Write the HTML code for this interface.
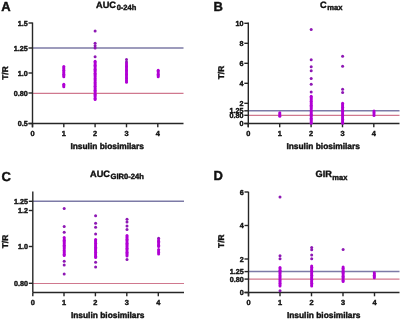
<!DOCTYPE html>
<html><head><meta charset="utf-8"><style>
html,body{margin:0;padding:0;background:#fff;width:401px;height:319px;overflow:hidden}
svg{display:block;will-change:transform}
text{font-family:"Liberation Sans", sans-serif;font-weight:bold;fill:#111;stroke:#111;stroke-width:0.4px;text-rendering:geometricPrecision}

</style></head><body><div id="w">
<svg width="401" height="319" viewBox="0 0 401 319">
<rect width="401" height="319" fill="#fff"/>
<line x1="32.5" y1="48" x2="183.5" y2="48" stroke="#7c7aa6" stroke-width="1.5"/><line x1="32.5" y1="93.4" x2="183.5" y2="93.4" stroke="#d0788e" stroke-width="1.1"/><line x1="32.5" y1="22.5" x2="32.5" y2="127.3" stroke="#262626" stroke-width="1.4"/><line x1="28.5" y1="123.5" x2="183.5" y2="123.5" stroke="#262626" stroke-width="1.4"/><line x1="28.5" y1="23" x2="32.5" y2="23" stroke="#262626" stroke-width="1.4"/><text x="27.8" y="25.55" font-size="7.2" text-anchor="end" >1.5</text><line x1="28.5" y1="48" x2="32.5" y2="48" stroke="#262626" stroke-width="1.4"/><text x="27.8" y="50.55" font-size="7.2" text-anchor="end" >1.25</text><line x1="28.5" y1="73" x2="32.5" y2="73" stroke="#262626" stroke-width="1.4"/><text x="27.8" y="75.55" font-size="7.2" text-anchor="end" >1.0</text><line x1="28.5" y1="93" x2="32.5" y2="93" stroke="#262626" stroke-width="1.4"/><text x="27.8" y="95.55" font-size="7.2" text-anchor="end" >0.80</text><line x1="28.5" y1="123.5" x2="32.5" y2="123.5" stroke="#262626" stroke-width="1.4"/><text x="27.8" y="126.05" font-size="7.2" text-anchor="end" >0.5</text><line x1="32.5" y1="123.5" x2="32.5" y2="127.3" stroke="#262626" stroke-width="1.4"/><text x="32.5" y="135.7" font-size="7.4" text-anchor="middle" >0</text><line x1="63.8" y1="123.5" x2="63.8" y2="127.3" stroke="#262626" stroke-width="1.4"/><text x="63.8" y="135.7" font-size="7.4" text-anchor="middle" >1</text><line x1="95.1" y1="123.5" x2="95.1" y2="127.3" stroke="#262626" stroke-width="1.4"/><text x="95.1" y="135.7" font-size="7.4" text-anchor="middle" >2</text><line x1="126.5" y1="123.5" x2="126.5" y2="127.3" stroke="#262626" stroke-width="1.4"/><text x="126.5" y="135.7" font-size="7.4" text-anchor="middle" >3</text><line x1="157.8" y1="123.5" x2="157.8" y2="127.3" stroke="#262626" stroke-width="1.4"/><text x="157.8" y="135.7" font-size="7.4" text-anchor="middle" >4</text><text x="1.3" y="10.7" font-size="13" text-anchor="start" >A</text><text x="96" y="7.6" font-size="9.2">AUC<tspan font-size="7.5" dx="0.8" dy="2.4">0-24h</tspan></text><text x="70.4" y="148.6" font-size="8.4" text-anchor="start" >Insulin biosimilars</text><text x="0" y="0" font-size="8.4" text-anchor="middle" transform="translate(7.5,73) rotate(-90)">T/R</text><line x1="248.3" y1="110.8" x2="399.5" y2="110.8" stroke="#7c7aa6" stroke-width="1.5"/><line x1="248.3" y1="115.4" x2="399.5" y2="115.4" stroke="#d0788e" stroke-width="1.1"/><line x1="248.3" y1="22.5" x2="248.3" y2="127.3" stroke="#262626" stroke-width="1.4"/><line x1="244.3" y1="123.5" x2="399.5" y2="123.5" stroke="#262626" stroke-width="1.4"/><line x1="244.3" y1="23.3" x2="248.3" y2="23.3" stroke="#262626" stroke-width="1.4"/><text x="243.60000000000002" y="25.85" font-size="7.2" text-anchor="end" >10</text><line x1="244.3" y1="43.3" x2="248.3" y2="43.3" stroke="#262626" stroke-width="1.4"/><text x="243.60000000000002" y="45.849999999999994" font-size="7.2" text-anchor="end" >8</text><line x1="244.3" y1="63.3" x2="248.3" y2="63.3" stroke="#262626" stroke-width="1.4"/><text x="243.60000000000002" y="65.85" font-size="7.2" text-anchor="end" >6</text><line x1="244.3" y1="83.3" x2="248.3" y2="83.3" stroke="#262626" stroke-width="1.4"/><text x="243.60000000000002" y="85.85" font-size="7.2" text-anchor="end" >4</text><line x1="244.3" y1="103.3" x2="248.3" y2="103.3" stroke="#262626" stroke-width="1.4"/><text x="243.60000000000002" y="105.85" font-size="7.2" text-anchor="end" >2</text><line x1="244.3" y1="110.8" x2="248.3" y2="110.8" stroke="#262626" stroke-width="1.4"/><text x="243.60000000000002" y="113.35" font-size="7.2" text-anchor="end" >1.25</text><line x1="244.3" y1="115.3" x2="248.3" y2="115.3" stroke="#262626" stroke-width="1.4"/><text x="243.60000000000002" y="117.85" font-size="7.2" text-anchor="end" >0.80</text><line x1="244.3" y1="123.5" x2="248.3" y2="123.5" stroke="#262626" stroke-width="1.4"/><text x="243.60000000000002" y="126.05" font-size="7.2" text-anchor="end" >0</text><line x1="248.3" y1="123.5" x2="248.3" y2="127.3" stroke="#262626" stroke-width="1.4"/><text x="248.3" y="135.7" font-size="7.4" text-anchor="middle" >0</text><line x1="279.7" y1="123.5" x2="279.7" y2="127.3" stroke="#262626" stroke-width="1.4"/><text x="279.7" y="135.7" font-size="7.4" text-anchor="middle" >1</text><line x1="311.1" y1="123.5" x2="311.1" y2="127.3" stroke="#262626" stroke-width="1.4"/><text x="311.1" y="135.7" font-size="7.4" text-anchor="middle" >2</text><line x1="342.5" y1="123.5" x2="342.5" y2="127.3" stroke="#262626" stroke-width="1.4"/><text x="342.5" y="135.7" font-size="7.4" text-anchor="middle" >3</text><line x1="373.8" y1="123.5" x2="373.8" y2="127.3" stroke="#262626" stroke-width="1.4"/><text x="373.8" y="135.7" font-size="7.4" text-anchor="middle" >4</text><text x="213.6" y="10.7" font-size="13" text-anchor="start" >B</text><text x="320.1" y="8" font-size="9.2">C<tspan font-size="7.6" dx="0.5" dy="2.2">max</tspan></text><text x="286.4" y="148.6" font-size="8.4" text-anchor="start" >Insulin biosimilars</text><text x="0" y="0" font-size="8.4" text-anchor="middle" transform="translate(223.8,72.5) rotate(-90)">T/R</text><line x1="32.8" y1="201.3" x2="184" y2="201.3" stroke="#7c7aa6" stroke-width="1.5"/><line x1="32.8" y1="283.5" x2="184" y2="283.5" stroke="#d0788e" stroke-width="1.1"/><line x1="32.8" y1="191.5" x2="32.8" y2="292.5" stroke="#262626" stroke-width="1.4"/><line x1="32.8" y1="292.5" x2="184" y2="292.5" stroke="#262626" stroke-width="1.4"/><line x1="28.799999999999997" y1="201.3" x2="32.8" y2="201.3" stroke="#262626" stroke-width="1.4"/><text x="28.099999999999998" y="203.85000000000002" font-size="7.2" text-anchor="end" >1.25</text><line x1="28.799999999999997" y1="210.5" x2="32.8" y2="210.5" stroke="#262626" stroke-width="1.4"/><text x="28.099999999999998" y="213.05" font-size="7.2" text-anchor="end" >1.2</text><line x1="28.799999999999997" y1="246.5" x2="32.8" y2="246.5" stroke="#262626" stroke-width="1.4"/><text x="28.099999999999998" y="249.05" font-size="7.2" text-anchor="end" >1.0</text><line x1="28.799999999999997" y1="283.3" x2="32.8" y2="283.3" stroke="#262626" stroke-width="1.4"/><text x="28.099999999999998" y="285.85" font-size="7.2" text-anchor="end" >0.80</text><line x1="32.8" y1="292.5" x2="32.8" y2="296.3" stroke="#262626" stroke-width="1.4"/><text x="32.8" y="304.7" font-size="7.4" text-anchor="middle" >0</text><line x1="64" y1="292.5" x2="64" y2="296.3" stroke="#262626" stroke-width="1.4"/><text x="64" y="304.7" font-size="7.4" text-anchor="middle" >1</text><line x1="95.4" y1="292.5" x2="95.4" y2="296.3" stroke="#262626" stroke-width="1.4"/><text x="95.4" y="304.7" font-size="7.4" text-anchor="middle" >2</text><line x1="126.8" y1="292.5" x2="126.8" y2="296.3" stroke="#262626" stroke-width="1.4"/><text x="126.8" y="304.7" font-size="7.4" text-anchor="middle" >3</text><line x1="158.3" y1="292.5" x2="158.3" y2="296.3" stroke="#262626" stroke-width="1.4"/><text x="158.3" y="304.7" font-size="7.4" text-anchor="middle" >4</text><text x="1.5" y="180.6" font-size="13" text-anchor="start" >C</text><text x="90" y="177.2" font-size="9.2">AUC<tspan font-size="7.6" dx="0.6" dy="2.2">GIR0-24h</tspan></text><text x="70.9" y="317.6" font-size="8.4" text-anchor="start" >Insulin biosimilars</text><text x="0" y="0" font-size="8.4" text-anchor="middle" transform="translate(7.75,241.5) rotate(-90)">T/R</text><line x1="248.5" y1="271.6" x2="399.5" y2="271.6" stroke="#7c7aa6" stroke-width="1.5"/><line x1="248.5" y1="279.1" x2="399.5" y2="279.1" stroke="#d0788e" stroke-width="1.1"/><line x1="248.5" y1="191.8" x2="248.5" y2="296.3" stroke="#262626" stroke-width="1.4"/><line x1="244.5" y1="292.5" x2="399.5" y2="292.5" stroke="#262626" stroke-width="1.4"/><line x1="244.5" y1="192" x2="248.5" y2="192" stroke="#262626" stroke-width="1.4"/><text x="243.8" y="194.55" font-size="7.2" text-anchor="end" >6</text><line x1="244.5" y1="225.5" x2="248.5" y2="225.5" stroke="#262626" stroke-width="1.4"/><text x="243.8" y="228.05" font-size="7.2" text-anchor="end" >4</text><line x1="244.5" y1="259" x2="248.5" y2="259" stroke="#262626" stroke-width="1.4"/><text x="243.8" y="261.55" font-size="7.2" text-anchor="end" >2</text><line x1="244.5" y1="271.6" x2="248.5" y2="271.6" stroke="#262626" stroke-width="1.4"/><text x="243.8" y="274.15000000000003" font-size="7.2" text-anchor="end" >1.25</text><line x1="244.5" y1="279.1" x2="248.5" y2="279.1" stroke="#262626" stroke-width="1.4"/><text x="243.8" y="281.65000000000003" font-size="7.2" text-anchor="end" >0.80</text><line x1="244.5" y1="292.5" x2="248.5" y2="292.5" stroke="#262626" stroke-width="1.4"/><text x="243.8" y="295.05" font-size="7.2" text-anchor="end" >0</text><line x1="248.5" y1="292.5" x2="248.5" y2="296.3" stroke="#262626" stroke-width="1.4"/><text x="248.5" y="304.7" font-size="7.4" text-anchor="middle" >0</text><line x1="280" y1="292.5" x2="280" y2="296.3" stroke="#262626" stroke-width="1.4"/><text x="280" y="304.7" font-size="7.4" text-anchor="middle" >1</text><line x1="311.5" y1="292.5" x2="311.5" y2="296.3" stroke="#262626" stroke-width="1.4"/><text x="311.5" y="304.7" font-size="7.4" text-anchor="middle" >2</text><line x1="343" y1="292.5" x2="343" y2="296.3" stroke="#262626" stroke-width="1.4"/><text x="343" y="304.7" font-size="7.4" text-anchor="middle" >3</text><line x1="374.5" y1="292.5" x2="374.5" y2="296.3" stroke="#262626" stroke-width="1.4"/><text x="374.5" y="304.7" font-size="7.4" text-anchor="middle" >4</text><text x="213.6" y="180.4" font-size="13" text-anchor="start" >D</text><text x="315.6" y="177.3" font-size="9.2">GIR<tspan font-size="7.5" dx="0.4" dy="2.2">max</tspan></text><text x="286.9" y="317.6" font-size="8.4" text-anchor="start" >Insulin biosimilars</text><text x="0" y="0" font-size="8.4" text-anchor="middle" transform="translate(223.8,241.2) rotate(-90)">T/R</text>
<circle cx="63.80" cy="66.50" r="1.5" fill="#b000d4"/><circle cx="63.80" cy="67.79" r="1.5" fill="#b000d4"/><circle cx="63.80" cy="69.08" r="1.5" fill="#b000d4"/><circle cx="63.80" cy="70.36" r="1.5" fill="#b000d4"/><circle cx="63.80" cy="71.65" r="1.5" fill="#b000d4"/><circle cx="63.80" cy="72.94" r="1.5" fill="#b000d4"/><circle cx="63.80" cy="74.22" r="1.5" fill="#b000d4"/><circle cx="63.80" cy="75.51" r="1.5" fill="#b000d4"/><circle cx="63.80" cy="76.80" r="1.5" fill="#b000d4"/><circle cx="63.80" cy="84.20" r="1.5" fill="#b000d4"/><circle cx="63.80" cy="85.50" r="1.5" fill="#b000d4"/><circle cx="63.80" cy="86.80" r="1.5" fill="#b000d4"/><circle cx="95.10" cy="30.90" r="1.5" fill="#8e18b4"/><circle cx="95.10" cy="43.30" r="1.5" fill="#8e18b4"/><circle cx="95.10" cy="45.80" r="1.5" fill="#8e18b4"/><circle cx="95.10" cy="48.00" r="1.5" fill="#8e18b4"/><circle cx="95.10" cy="56.70" r="1.5" fill="#8e18b4"/><circle cx="95.10" cy="61.30" r="1.5" fill="#b000d4"/><circle cx="95.10" cy="62.62" r="1.5" fill="#b000d4"/><circle cx="95.10" cy="63.93" r="1.5" fill="#b000d4"/><circle cx="95.10" cy="65.25" r="1.5" fill="#b000d4"/><circle cx="95.10" cy="66.57" r="1.5" fill="#b000d4"/><circle cx="95.10" cy="67.89" r="1.5" fill="#b000d4"/><circle cx="95.10" cy="69.20" r="1.5" fill="#b000d4"/><circle cx="95.10" cy="70.52" r="1.5" fill="#b000d4"/><circle cx="95.10" cy="71.84" r="1.5" fill="#b000d4"/><circle cx="95.10" cy="73.16" r="1.5" fill="#b000d4"/><circle cx="95.10" cy="74.47" r="1.5" fill="#b000d4"/><circle cx="95.10" cy="75.79" r="1.5" fill="#b000d4"/><circle cx="95.10" cy="77.11" r="1.5" fill="#b000d4"/><circle cx="95.10" cy="78.42" r="1.5" fill="#b000d4"/><circle cx="95.10" cy="79.74" r="1.5" fill="#b000d4"/><circle cx="95.10" cy="81.06" r="1.5" fill="#b000d4"/><circle cx="95.10" cy="82.38" r="1.5" fill="#b000d4"/><circle cx="95.10" cy="83.69" r="1.5" fill="#b000d4"/><circle cx="95.10" cy="85.01" r="1.5" fill="#b000d4"/><circle cx="95.10" cy="86.33" r="1.5" fill="#b000d4"/><circle cx="95.10" cy="87.64" r="1.5" fill="#b000d4"/><circle cx="95.10" cy="88.96" r="1.5" fill="#b000d4"/><circle cx="95.10" cy="90.28" r="1.5" fill="#b000d4"/><circle cx="95.10" cy="91.60" r="1.5" fill="#b000d4"/><circle cx="95.10" cy="92.91" r="1.5" fill="#b000d4"/><circle cx="95.10" cy="94.23" r="1.5" fill="#b000d4"/><circle cx="95.10" cy="95.55" r="1.5" fill="#b000d4"/><circle cx="95.10" cy="96.87" r="1.5" fill="#b000d4"/><circle cx="95.10" cy="98.18" r="1.5" fill="#b000d4"/><circle cx="95.10" cy="99.50" r="1.5" fill="#b000d4"/><circle cx="126.50" cy="59.50" r="1.5" fill="#8e18b4"/><circle cx="126.50" cy="62.00" r="1.5" fill="#8e18b4"/><circle cx="126.50" cy="63.60" r="1.5" fill="#b000d4"/><circle cx="126.50" cy="64.94" r="1.5" fill="#b000d4"/><circle cx="126.50" cy="66.27" r="1.5" fill="#b000d4"/><circle cx="126.50" cy="67.61" r="1.5" fill="#b000d4"/><circle cx="126.50" cy="68.94" r="1.5" fill="#b000d4"/><circle cx="126.50" cy="70.28" r="1.5" fill="#b000d4"/><circle cx="126.50" cy="71.61" r="1.5" fill="#b000d4"/><circle cx="126.50" cy="72.95" r="1.5" fill="#b000d4"/><circle cx="126.50" cy="74.29" r="1.5" fill="#b000d4"/><circle cx="126.50" cy="75.62" r="1.5" fill="#b000d4"/><circle cx="126.50" cy="76.96" r="1.5" fill="#b000d4"/><circle cx="126.50" cy="78.29" r="1.5" fill="#b000d4"/><circle cx="126.50" cy="79.63" r="1.5" fill="#b000d4"/><circle cx="126.50" cy="80.96" r="1.5" fill="#b000d4"/><circle cx="126.50" cy="82.30" r="1.5" fill="#b000d4"/><circle cx="158.20" cy="70.30" r="1.5" fill="#b000d4"/><circle cx="158.20" cy="71.60" r="1.5" fill="#b000d4"/><circle cx="158.20" cy="72.90" r="1.5" fill="#b000d4"/><circle cx="158.20" cy="74.20" r="1.5" fill="#b000d4"/><circle cx="158.20" cy="75.50" r="1.5" fill="#b000d4"/><circle cx="158.20" cy="76.80" r="1.5" fill="#b000d4"/><circle cx="279.80" cy="112.70" r="1.5" fill="#b000d4"/><circle cx="279.80" cy="113.90" r="1.5" fill="#b000d4"/><circle cx="279.80" cy="115.10" r="1.5" fill="#b000d4"/><circle cx="279.80" cy="116.30" r="1.5" fill="#b000d4"/><circle cx="311.20" cy="29.40" r="1.5" fill="#8e18b4"/><circle cx="311.20" cy="59.80" r="1.5" fill="#8e18b4"/><circle cx="311.20" cy="66.70" r="1.5" fill="#8e18b4"/><circle cx="311.20" cy="70.70" r="1.5" fill="#8e18b4"/><circle cx="311.20" cy="78.50" r="1.5" fill="#8e18b4"/><circle cx="311.20" cy="84.20" r="1.5" fill="#8e18b4"/><circle cx="311.20" cy="92.00" r="1.5" fill="#8e18b4"/><circle cx="311.20" cy="96.20" r="1.5" fill="#b000d4"/><circle cx="311.20" cy="97.49" r="1.5" fill="#b000d4"/><circle cx="311.20" cy="98.78" r="1.5" fill="#b000d4"/><circle cx="311.20" cy="100.07" r="1.5" fill="#b000d4"/><circle cx="311.20" cy="101.36" r="1.5" fill="#b000d4"/><circle cx="311.20" cy="102.65" r="1.5" fill="#b000d4"/><circle cx="311.20" cy="103.94" r="1.5" fill="#b000d4"/><circle cx="311.20" cy="105.23" r="1.5" fill="#b000d4"/><circle cx="311.20" cy="106.52" r="1.5" fill="#b000d4"/><circle cx="311.20" cy="107.81" r="1.5" fill="#b000d4"/><circle cx="311.20" cy="109.10" r="1.5" fill="#b000d4"/><circle cx="311.20" cy="110.40" r="1.5" fill="#b000d4"/><circle cx="311.20" cy="111.69" r="1.5" fill="#b000d4"/><circle cx="311.20" cy="112.98" r="1.5" fill="#b000d4"/><circle cx="311.20" cy="114.27" r="1.5" fill="#b000d4"/><circle cx="311.20" cy="115.56" r="1.5" fill="#b000d4"/><circle cx="311.20" cy="116.85" r="1.5" fill="#b000d4"/><circle cx="311.20" cy="118.14" r="1.5" fill="#b000d4"/><circle cx="311.20" cy="119.43" r="1.5" fill="#b000d4"/><circle cx="311.20" cy="120.72" r="1.5" fill="#b000d4"/><circle cx="311.20" cy="122.01" r="1.5" fill="#b000d4"/><circle cx="311.20" cy="123.30" r="1.5" fill="#b000d4"/><circle cx="342.60" cy="56.30" r="1.5" fill="#8e18b4"/><circle cx="342.60" cy="66.30" r="1.5" fill="#8e18b4"/><circle cx="342.60" cy="89.30" r="1.5" fill="#8e18b4"/><circle cx="342.60" cy="92.50" r="1.5" fill="#8e18b4"/><circle cx="342.60" cy="103.30" r="1.5" fill="#b000d4"/><circle cx="342.60" cy="104.63" r="1.5" fill="#b000d4"/><circle cx="342.60" cy="105.97" r="1.5" fill="#b000d4"/><circle cx="342.60" cy="107.30" r="1.5" fill="#b000d4"/><circle cx="342.60" cy="108.63" r="1.5" fill="#b000d4"/><circle cx="342.60" cy="109.97" r="1.5" fill="#b000d4"/><circle cx="342.60" cy="111.30" r="1.5" fill="#b000d4"/><circle cx="342.60" cy="112.63" r="1.5" fill="#b000d4"/><circle cx="342.60" cy="113.97" r="1.5" fill="#b000d4"/><circle cx="342.60" cy="115.30" r="1.5" fill="#b000d4"/><circle cx="342.60" cy="116.63" r="1.5" fill="#b000d4"/><circle cx="342.60" cy="117.97" r="1.5" fill="#b000d4"/><circle cx="342.60" cy="119.30" r="1.5" fill="#b000d4"/><circle cx="342.60" cy="120.63" r="1.5" fill="#b000d4"/><circle cx="342.60" cy="121.97" r="1.5" fill="#b000d4"/><circle cx="342.60" cy="123.30" r="1.5" fill="#b000d4"/><circle cx="374.00" cy="111.00" r="1.5" fill="#b000d4"/><circle cx="374.00" cy="112.50" r="1.5" fill="#b000d4"/><circle cx="374.00" cy="114.00" r="1.5" fill="#b000d4"/><circle cx="374.00" cy="115.50" r="1.5" fill="#b000d4"/><circle cx="64.20" cy="208.50" r="1.5" fill="#8e18b4"/><circle cx="64.20" cy="226.60" r="1.5" fill="#8e18b4"/><circle cx="64.20" cy="232.20" r="1.5" fill="#8e18b4"/><circle cx="64.20" cy="237.60" r="1.5" fill="#b000d4"/><circle cx="64.20" cy="238.88" r="1.5" fill="#b000d4"/><circle cx="64.20" cy="240.16" r="1.5" fill="#b000d4"/><circle cx="64.20" cy="241.44" r="1.5" fill="#b000d4"/><circle cx="64.20" cy="242.71" r="1.5" fill="#b000d4"/><circle cx="64.20" cy="243.99" r="1.5" fill="#b000d4"/><circle cx="64.20" cy="245.27" r="1.5" fill="#b000d4"/><circle cx="64.20" cy="246.55" r="1.5" fill="#b000d4"/><circle cx="64.20" cy="247.83" r="1.5" fill="#b000d4"/><circle cx="64.20" cy="249.11" r="1.5" fill="#b000d4"/><circle cx="64.20" cy="250.39" r="1.5" fill="#b000d4"/><circle cx="64.20" cy="251.66" r="1.5" fill="#b000d4"/><circle cx="64.20" cy="252.94" r="1.5" fill="#b000d4"/><circle cx="64.20" cy="254.22" r="1.5" fill="#b000d4"/><circle cx="64.20" cy="255.50" r="1.5" fill="#b000d4"/><circle cx="64.20" cy="261.30" r="1.5" fill="#8e18b4"/><circle cx="64.20" cy="265.10" r="1.5" fill="#8e18b4"/><circle cx="64.20" cy="273.90" r="1.5" fill="#8e18b4"/><circle cx="95.60" cy="215.70" r="1.5" fill="#8e18b4"/><circle cx="95.60" cy="223.20" r="1.5" fill="#8e18b4"/><circle cx="95.60" cy="227.30" r="1.5" fill="#8e18b4"/><circle cx="95.60" cy="233.90" r="1.5" fill="#8e18b4"/><circle cx="95.60" cy="239.50" r="1.5" fill="#b000d4"/><circle cx="95.60" cy="240.79" r="1.5" fill="#b000d4"/><circle cx="95.60" cy="242.07" r="1.5" fill="#b000d4"/><circle cx="95.60" cy="243.36" r="1.5" fill="#b000d4"/><circle cx="95.60" cy="244.64" r="1.5" fill="#b000d4"/><circle cx="95.60" cy="245.93" r="1.5" fill="#b000d4"/><circle cx="95.60" cy="247.21" r="1.5" fill="#b000d4"/><circle cx="95.60" cy="248.50" r="1.5" fill="#b000d4"/><circle cx="95.60" cy="249.79" r="1.5" fill="#b000d4"/><circle cx="95.60" cy="251.07" r="1.5" fill="#b000d4"/><circle cx="95.60" cy="252.36" r="1.5" fill="#b000d4"/><circle cx="95.60" cy="253.64" r="1.5" fill="#b000d4"/><circle cx="95.60" cy="254.93" r="1.5" fill="#b000d4"/><circle cx="95.60" cy="256.21" r="1.5" fill="#b000d4"/><circle cx="95.60" cy="257.50" r="1.5" fill="#b000d4"/><circle cx="95.60" cy="262.30" r="1.5" fill="#8e18b4"/><circle cx="95.60" cy="267.00" r="1.5" fill="#8e18b4"/><circle cx="127.00" cy="219.30" r="1.5" fill="#8e18b4"/><circle cx="127.00" cy="221.90" r="1.5" fill="#8e18b4"/><circle cx="127.00" cy="226.00" r="1.5" fill="#8e18b4"/><circle cx="127.00" cy="229.50" r="1.5" fill="#8e18b4"/><circle cx="127.00" cy="235.50" r="1.5" fill="#b000d4"/><circle cx="127.00" cy="236.78" r="1.5" fill="#b000d4"/><circle cx="127.00" cy="238.06" r="1.5" fill="#b000d4"/><circle cx="127.00" cy="239.34" r="1.5" fill="#b000d4"/><circle cx="127.00" cy="240.62" r="1.5" fill="#b000d4"/><circle cx="127.00" cy="241.91" r="1.5" fill="#b000d4"/><circle cx="127.00" cy="243.19" r="1.5" fill="#b000d4"/><circle cx="127.00" cy="244.47" r="1.5" fill="#b000d4"/><circle cx="127.00" cy="245.75" r="1.5" fill="#b000d4"/><circle cx="127.00" cy="247.03" r="1.5" fill="#b000d4"/><circle cx="127.00" cy="248.31" r="1.5" fill="#b000d4"/><circle cx="127.00" cy="249.59" r="1.5" fill="#b000d4"/><circle cx="127.00" cy="250.88" r="1.5" fill="#b000d4"/><circle cx="127.00" cy="252.16" r="1.5" fill="#b000d4"/><circle cx="127.00" cy="253.44" r="1.5" fill="#b000d4"/><circle cx="127.00" cy="254.72" r="1.5" fill="#b000d4"/><circle cx="127.00" cy="256.00" r="1.5" fill="#b000d4"/><circle cx="127.00" cy="259.50" r="1.5" fill="#8e18b4"/><circle cx="158.60" cy="238.30" r="1.5" fill="#8e18b4"/><circle cx="158.60" cy="240.00" r="1.5" fill="#b000d4"/><circle cx="158.60" cy="241.30" r="1.5" fill="#b000d4"/><circle cx="158.60" cy="242.60" r="1.5" fill="#b000d4"/><circle cx="158.60" cy="243.90" r="1.5" fill="#b000d4"/><circle cx="158.60" cy="245.20" r="1.5" fill="#b000d4"/><circle cx="158.60" cy="246.50" r="1.5" fill="#b000d4"/><circle cx="158.60" cy="249.50" r="1.5" fill="#b000d4"/><circle cx="158.60" cy="251.00" r="1.5" fill="#b000d4"/><circle cx="158.60" cy="252.50" r="1.5" fill="#b000d4"/><circle cx="158.60" cy="254.00" r="1.5" fill="#b000d4"/><circle cx="280.00" cy="196.90" r="1.5" fill="#8e18b4"/><circle cx="280.00" cy="255.70" r="1.5" fill="#8e18b4"/><circle cx="280.00" cy="258.80" r="1.5" fill="#8e18b4"/><circle cx="280.00" cy="267.50" r="1.5" fill="#b000d4"/><circle cx="280.00" cy="268.82" r="1.5" fill="#b000d4"/><circle cx="280.00" cy="270.14" r="1.5" fill="#b000d4"/><circle cx="280.00" cy="271.46" r="1.5" fill="#b000d4"/><circle cx="280.00" cy="272.79" r="1.5" fill="#b000d4"/><circle cx="280.00" cy="274.11" r="1.5" fill="#b000d4"/><circle cx="280.00" cy="275.43" r="1.5" fill="#b000d4"/><circle cx="280.00" cy="276.75" r="1.5" fill="#b000d4"/><circle cx="280.00" cy="278.07" r="1.5" fill="#b000d4"/><circle cx="280.00" cy="279.39" r="1.5" fill="#b000d4"/><circle cx="280.00" cy="280.71" r="1.5" fill="#b000d4"/><circle cx="280.00" cy="282.04" r="1.5" fill="#b000d4"/><circle cx="280.00" cy="283.36" r="1.5" fill="#b000d4"/><circle cx="280.00" cy="284.68" r="1.5" fill="#b000d4"/><circle cx="280.00" cy="286.00" r="1.5" fill="#b000d4"/><circle cx="280.00" cy="290.70" r="1.5" fill="#8e18b4"/><circle cx="311.70" cy="247.50" r="1.5" fill="#8e18b4"/><circle cx="311.70" cy="249.80" r="1.5" fill="#8e18b4"/><circle cx="311.70" cy="255.00" r="1.5" fill="#8e18b4"/><circle cx="311.70" cy="258.80" r="1.5" fill="#8e18b4"/><circle cx="311.70" cy="266.00" r="1.5" fill="#b000d4"/><circle cx="311.70" cy="267.33" r="1.5" fill="#b000d4"/><circle cx="311.70" cy="268.67" r="1.5" fill="#b000d4"/><circle cx="311.70" cy="270.00" r="1.5" fill="#b000d4"/><circle cx="311.70" cy="271.33" r="1.5" fill="#b000d4"/><circle cx="311.70" cy="272.67" r="1.5" fill="#b000d4"/><circle cx="311.70" cy="274.00" r="1.5" fill="#b000d4"/><circle cx="311.70" cy="275.33" r="1.5" fill="#b000d4"/><circle cx="311.70" cy="276.67" r="1.5" fill="#b000d4"/><circle cx="311.70" cy="278.00" r="1.5" fill="#b000d4"/><circle cx="311.70" cy="279.33" r="1.5" fill="#b000d4"/><circle cx="311.70" cy="280.67" r="1.5" fill="#b000d4"/><circle cx="311.70" cy="282.00" r="1.5" fill="#b000d4"/><circle cx="311.70" cy="283.33" r="1.5" fill="#b000d4"/><circle cx="311.70" cy="284.67" r="1.5" fill="#b000d4"/><circle cx="311.70" cy="286.00" r="1.5" fill="#b000d4"/><circle cx="343.10" cy="249.50" r="1.5" fill="#8e18b4"/><circle cx="343.10" cy="267.00" r="1.5" fill="#b000d4"/><circle cx="343.10" cy="268.32" r="1.5" fill="#b000d4"/><circle cx="343.10" cy="269.64" r="1.5" fill="#b000d4"/><circle cx="343.10" cy="270.95" r="1.5" fill="#b000d4"/><circle cx="343.10" cy="272.27" r="1.5" fill="#b000d4"/><circle cx="343.10" cy="273.59" r="1.5" fill="#b000d4"/><circle cx="343.10" cy="274.91" r="1.5" fill="#b000d4"/><circle cx="343.10" cy="276.23" r="1.5" fill="#b000d4"/><circle cx="343.10" cy="277.55" r="1.5" fill="#b000d4"/><circle cx="343.10" cy="278.86" r="1.5" fill="#b000d4"/><circle cx="343.10" cy="280.18" r="1.5" fill="#b000d4"/><circle cx="343.10" cy="281.50" r="1.5" fill="#b000d4"/><circle cx="374.30" cy="272.80" r="1.5" fill="#b000d4"/><circle cx="374.30" cy="274.05" r="1.5" fill="#b000d4"/><circle cx="374.30" cy="275.30" r="1.5" fill="#b000d4"/><circle cx="374.30" cy="276.55" r="1.5" fill="#b000d4"/><circle cx="374.30" cy="277.80" r="1.5" fill="#b000d4"/>
</svg></div>
</body></html>
